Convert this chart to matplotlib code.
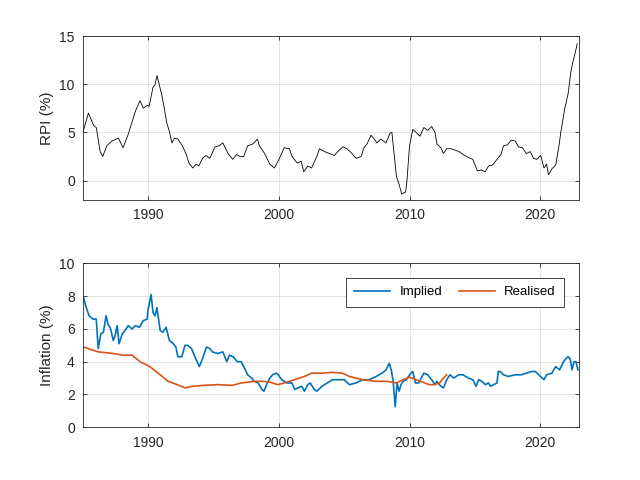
import numpy as np
import matplotlib
matplotlib.use('Agg')
import matplotlib.pyplot as plt

# RPI (%)
rpi_year = [1985.0, 1985.4, 1985.8, 1986.0, 1986.3, 1986.5, 1986.8, 1987.2, 1987.7, 1988.05,
            1988.45, 1989.0, 1989.35, 1989.6, 1989.9, 1990.05, 1990.35, 1990.5, 1990.65, 1990.8,
            1991.0, 1991.2, 1991.4, 1991.6, 1991.8, 1992.0, 1992.25, 1992.6, 1992.9, 1993.1,
            1993.4, 1993.65, 1993.85, 1994.15, 1994.4, 1994.7, 1995.1, 1995.4, 1995.7, 1996.1,
            1996.45, 1996.75, 1997.0, 1997.3, 1997.6, 1998.0, 1998.35, 1998.5, 1998.9, 1999.3,
            1999.65, 2000.0, 2000.4, 2000.8, 2001.0, 2001.4, 2001.7, 2001.9, 2002.2, 2002.5,
            2002.9, 2003.1, 2003.5, 2003.85, 2004.25, 2004.5, 2004.9, 2005.2, 2005.6, 2005.9,
            2006.3, 2006.5, 2006.75, 2007.05, 2007.3, 2007.5, 2007.8, 2008.2, 2008.5, 2008.65,
            2008.8, 2009.0, 2009.2, 2009.4, 2009.7, 2009.8, 2010.0, 2010.25, 2010.5, 2010.8,
            2011.1, 2011.4, 2011.7, 2011.95, 2012.1, 2012.4, 2012.6, 2012.85, 2013.2, 2013.6,
            2013.8, 2014.1, 2014.5, 2014.85, 2015.05, 2015.2, 2015.5, 2015.8, 2016.05, 2016.35,
            2016.7, 2017.0, 2017.2, 2017.5, 2017.8, 2018.1, 2018.35, 2018.65, 2018.95, 2019.25,
            2019.5, 2019.75, 2020.05, 2020.3, 2020.5, 2020.65, 2020.9, 2021.2, 2021.45, 2021.6,
            2021.9, 2022.15, 2022.35, 2022.55, 2022.7, 2022.85]
rpi_value = [5.1, 7.0, 5.7, 5.5, 3.0, 2.5, 3.6, 4.1, 4.4, 3.4,
             4.8, 7.2, 8.3, 7.5, 7.8, 7.7, 9.7, 9.9, 10.9, 10.1,
             9.0, 7.6, 6.0, 5.1, 3.9, 4.4, 4.3, 3.6, 2.7, 1.8,
             1.3, 1.7, 1.5, 2.3, 2.6, 2.3, 3.5, 3.6, 3.9, 2.8,
             2.2, 2.7, 2.5, 2.5, 3.6, 3.8, 4.3, 3.6, 2.8, 1.7,
             1.3, 2.2, 3.4, 3.3, 2.5, 1.8, 2.0, 0.9, 1.5, 1.3,
             2.5, 3.3, 3.0, 2.8, 2.6, 3.0, 3.5, 3.3, 2.8, 2.3,
             2.5, 3.4, 3.8, 4.7, 4.3, 3.9, 4.3, 3.9, 4.9, 5.0,
             3.0, 0.4, -0.4, -1.4, -1.2, -0.1, 3.6, 5.3, 5.0, 4.6,
             5.5, 5.2, 5.6, 5.0, 3.8, 3.4, 2.8, 3.3, 3.3, 3.1,
             3.0, 2.7, 2.4, 2.2, 1.5, 1.0, 1.1, 0.9, 1.5, 1.6,
             2.2, 2.7, 3.6, 3.7, 4.2, 4.1, 3.5, 3.4, 2.8, 3.0,
             2.3, 2.2, 2.6, 1.3, 1.7, 0.6, 1.2, 1.6, 3.6, 5.1,
             7.5, 9.0, 11.2, 12.5, 13.3, 14.2]

# implied inflation (%)
implied_year = [1985.0, 1985.2, 1985.45, 1985.75, 1986.0, 1986.15, 1986.35, 1986.55, 1986.75, 1986.9,
                1987.1, 1987.3, 1987.45, 1987.6, 1987.75, 1988.0, 1988.2, 1988.45, 1988.75, 1989.0,
                1989.3, 1989.6, 1989.9, 1989.95, 1990.2, 1990.35, 1990.5, 1990.65, 1990.9, 1991.1,
                1991.35, 1991.6, 1991.9, 1992.1, 1992.25, 1992.55, 1992.8, 1993.0, 1993.3, 1993.55,
                1993.9, 1994.15, 1994.45, 1994.7, 1994.9, 1995.3, 1995.7, 1996.0, 1996.2, 1996.5,
                1996.8, 1997.1, 1997.3, 1997.6, 1997.9, 1998.1, 1998.4, 1998.7, 1998.85, 1999.05,
                1999.3, 1999.5, 1999.8, 1999.95, 2000.2, 2000.6, 2001.0, 2001.2, 2001.45, 2001.75,
                2001.95, 2002.2, 2002.4, 2002.7, 2002.9, 2003.3, 2003.7, 2004.1, 2004.5, 2005.0,
                2005.4, 2005.9, 2006.4, 2006.9, 2007.45, 2007.9, 2008.2, 2008.45, 2008.6, 2008.75,
                2008.9, 2009.05, 2009.2, 2009.35, 2009.5, 2009.75, 2010.1, 2010.25, 2010.45, 2010.7,
                2011.1, 2011.4, 2011.7, 2011.95, 2012.1, 2012.4, 2012.6, 2012.85, 2013.1, 2013.4,
                2013.75, 2014.1, 2014.5, 2014.85, 2015.1, 2015.3, 2015.55, 2015.8, 2016.05, 2016.2,
                2016.45, 2016.7, 2016.8, 2016.95, 2017.2, 2017.55, 2018.1, 2018.55, 2018.95, 2019.35,
                2019.65, 2019.9, 2020.3, 2020.5, 2020.9, 2021.2, 2021.5, 2021.8, 2022.0, 2022.15,
                2022.3, 2022.45, 2022.6, 2022.75, 2022.9]
implied_value = [8.0, 7.4, 6.8, 6.6, 6.6, 4.8, 5.7, 5.8, 6.8, 6.3,
                 6.0, 5.3, 5.6, 6.2, 5.1, 5.7, 5.9, 6.2, 6.0, 6.2,
                 6.1, 6.5, 6.6, 7.1, 8.1, 7.0, 6.8, 7.3, 5.9, 5.8,
                 6.1, 5.3, 5.1, 4.9, 4.3, 4.3, 5.0, 5.0, 4.8, 4.3,
                 3.7, 4.2, 4.9, 4.8, 4.6, 4.5, 4.6, 4.0, 4.4, 4.3,
                 4.0, 4.0, 3.7, 3.2, 3.0, 2.8, 2.7, 2.3, 2.2, 2.6,
                 3.0, 3.2, 3.3, 3.2, 2.9, 2.7, 2.7, 2.3, 2.4, 2.5,
                 2.2, 2.6, 2.7, 2.3, 2.2, 2.5, 2.7, 2.9, 2.9, 2.9,
                 2.6, 2.7, 2.9, 2.9, 3.1, 3.3, 3.5, 3.9, 3.5, 2.8,
                 1.25, 2.7, 2.2, 2.6, 2.8, 2.9, 3.3, 3.4, 2.7, 2.7,
                 3.3, 3.2, 2.9, 2.6, 2.8, 2.5, 2.4, 2.9, 3.2, 3.0,
                 3.2, 3.2, 3.0, 2.9, 2.5, 2.9, 2.8, 2.6, 2.7, 2.5,
                 2.6, 2.7, 3.4, 3.4, 3.2, 3.1, 3.2, 3.2, 3.3, 3.4,
                 3.4, 3.2, 2.9, 3.2, 3.3, 3.7, 3.5, 4.0, 4.2, 4.3,
                 4.2, 3.5, 4.0, 4.0, 3.5]

# realised inflation (%)
realised_year = [1985.0, 1986.15, 1987.3, 1988.05, 1988.75, 1989.35, 1990.1, 1990.9, 1991.5, 1992.2,
                 1992.8, 1993.4, 1994.15, 1995.3, 1996.4, 1997.1, 1998.1, 1998.8, 1999.3, 1999.9,
                 2000.4, 2001.2, 2001.95, 2002.5, 2003.3, 2004.1, 2004.85, 2005.4, 2006.4, 2007.45,
                 2008.3, 2009.0, 2009.5, 2010.0, 2010.5, 2011.0, 2011.5, 2011.9, 2012.3, 2012.6,
                 2012.85]
realised_value = [4.9, 4.6, 4.5, 4.4, 4.4, 4.0, 3.7, 3.2, 2.8, 2.6,
                  2.4, 2.5, 2.55, 2.6, 2.55, 2.7, 2.8, 2.8, 2.75, 2.6,
                  2.7, 2.9, 3.1, 3.3, 3.3, 3.35, 3.3, 3.1, 2.9, 2.8,
                  2.8, 2.7, 2.9, 3.05, 2.9, 2.75, 2.6, 2.6, 2.7, 3.0,
                  3.2]

year_ticks = [1990, 2000, 2010, 2020]

plt.rcParams['font.family'] = ['Liberation Sans', 'DejaVu Sans']
plt.rcParams['font.size'] = 10

dark = (0.15, 0.15, 0.15)
blue = (0, 0.447, 0.741)
orange = (0.85, 0.325, 0.098)

fig = plt.figure(figsize=(6.4, 4.8), dpi=100)
ax1 = fig.add_axes([0.13, 0.5838, 0.775, 0.3412])
ax2 = fig.add_axes([0.13, 0.11, 0.775, 0.3412])


def style_axes(ax):
    for s in ax.spines.values():
        s.set_color(dark)
        s.set_linewidth(0.6)
    ax.tick_params(direction='in', top=True, right=True, colors=dark,
                   labelsize=10, length=3, width=0.6, pad=6)
    ax.grid(True, color=(0.87, 0.87, 0.87), linewidth=0.6)
    ax.set_axisbelow(True)
    ax.set_xlim(1985, 2023)
    ax.set_xticks(year_ticks)


ax1.plot(rpi_year, rpi_value, color='black', linewidth=0.6)
style_axes(ax1)
ax1.set_ylim(-2, 15)
ax1.set_yticks([0, 5, 10, 15])
ax1.set_ylabel('RPI (%)', fontsize=11, color=dark)

ax2.plot(implied_year, implied_value, color=blue, linewidth=1.2, label='Implied')
ax2.plot(realised_year, realised_value, color=orange, linewidth=1.2, label='Realised')
style_axes(ax2)
ax2.set_ylim(0, 10)
ax2.set_yticks([0, 2, 4, 6, 8, 10])
ax2.set_ylabel('Inflation (%)', fontsize=11, color=dark)
leg = ax2.legend(loc='upper right', bbox_to_anchor=(0.97, 0.913), borderaxespad=0,
                 ncol=2, fancybox=False, framealpha=1, edgecolor=dark,
                 handlelength=2.7, handletextpad=0.7, columnspacing=1.3,
                 borderpad=0.65, fontsize=9.5)
leg.get_frame().set_linewidth(0.6)

fig.savefig('out.png', dpi=100)
